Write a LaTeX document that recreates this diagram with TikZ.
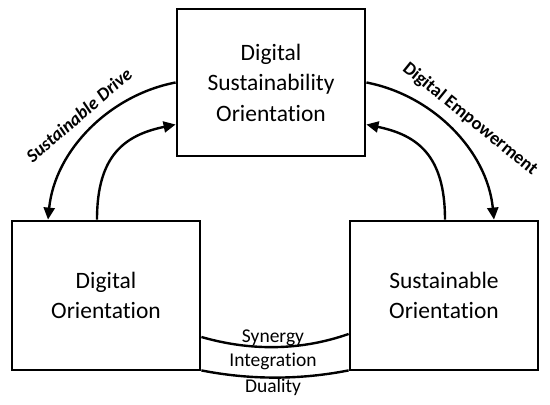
\documentclass[tikz,border=0pt]{standalone}
\usepackage{fontspec}
\setmainfont{Carlito}[Ligatures={NoCommon}]
\usetikzlibrary{arrows.meta,calc}
\begin{document}
\begin{tikzpicture}[x=1pt,y=1pt,
 box/.style={draw,line width=2.8pt,minimum width=188pt,inner sep=0pt,align=center,
   font=\fontsize{23.5}{30.5}\selectfont},
 conn/.style={line width=2.4pt,-{Triangle[length=12pt,width=11pt]}},
 arcline/.style={line width=2.4pt},
 lbl/.style={font=\fontsize{18.5}{20}\selectfont\bfseries},
 midtext/.style={font=\fontsize{19.5}{22}\selectfont,anchor=base}]
\useasboundingbox (0,0) rectangle (550,405);
\node[box,minimum height=147pt] (top) at (271,322.5) {Digital\\Sustainability\\Orientation};
\node[box,minimum height=149pt] (left) at (106,109.5) {Digital\\Orientation};
\node[box,minimum height=149pt] (right) at (444,109.5) {Sustainable\\Orientation};
% arrows
\coordinate (a1e) at ($(left.north)+(-58,0)$);
\coordinate (a2s) at ($(left.north)+(-9,0)$);
\coordinate (a2e) at ($(top.west)+(0,-42)$);
\coordinate (a3e) at ($(right.north)+(50,0)$);
\coordinate (a4s) at ($(right.north)+(1,0)$);
\coordinate (a4e) at ($(top.east)+(0,-42)$);
\draw[conn] (top.west) .. controls (110,310) and (55,255) .. (a1e);
\draw[conn] (a2s) .. controls (97,250) and (125,270) .. (a2e);
\draw[conn] (top.east) .. controls (432,310) and (487,255) .. (a3e);
\draw[conn] (a4s) .. controls (445,250) and (417,270) .. (a4e);
% labels
\node[lbl,rotate=41] (sd) at (79,290) {\itshape Sustainable Drive};
\node[lbl,rotate=-39] (de) at (470,286) {Digital Empowerment};
% bottom arcs
\coordinate (u1) at ($(left.east)+(0,-41.5)$);
\coordinate (u2) at ($(right.west)+(0,-38.5)$);
\coordinate (l1) at ($(left.south east)+(0,1)$);
\coordinate (l2) at ($(right.south west)+(0,1)$);
\draw[arcline] (u1) .. controls (250,54) and (300,54) .. (u2);
\draw[arcline] (l1) .. controls (250,25) and (300,25) .. (l2);
\node[midtext] (syn) at (273,62) {Synergy};
\node[midtext] (int) at (273,38) {Integration};
\node[midtext] (dua) at (273,12) {Duality};
\end{tikzpicture}
\end{document}
